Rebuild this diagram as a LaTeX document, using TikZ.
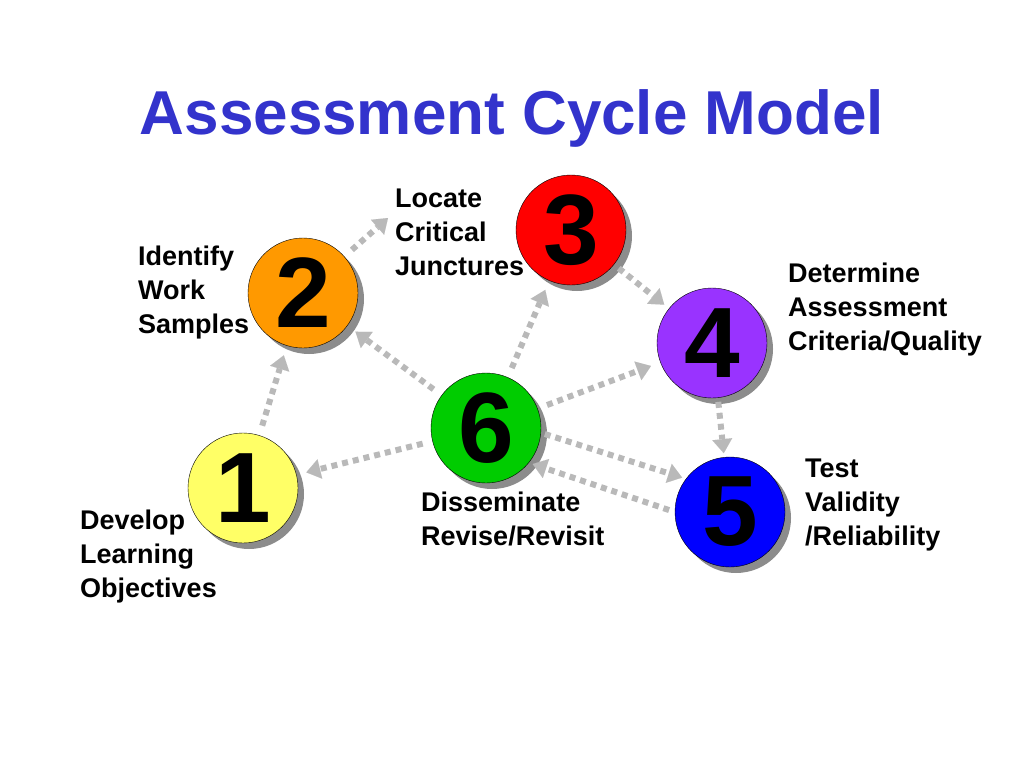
\documentclass[tikz,border=0pt]{standalone}
\usepackage{fontspec}
\setmainfont{Liberation Sans}
\usetikzlibrary{arrows.meta,shadows}
\definecolor{ttl}{RGB}{51,51,204}
\definecolor{arr}{RGB}{185,185,185}
\tikzset{
 num/.style={circle,draw=black,thin,minimum size=110pt,inner sep=0pt,font=\fontsize{100}{100}\selectfont\bfseries,
   drop shadow={shadow xshift=6pt,shadow yshift=-6pt,fill=gray!90,opacity=1}},
 lbl/.style={align=left,anchor=north west,font=\fontsize{27}{34}\selectfont\bfseries,inner sep=0pt},
 con/.style={draw=arr,line width=6pt,dash pattern=on 6pt off 5pt,shorten <=10pt,shorten >=10pt,
   -{Triangle[length=14pt,width=20pt,fill=arr,color=arr,line width=0.01pt]}},
}
\begin{document}
\begin{tikzpicture}[x=1pt,y=-1pt]
\useasboundingbox (0,0) rectangle (1024,768);
\node[font=\fontsize{62}{62}\selectfont\bfseries,text=ttl] (title) at (512,118) {Assessment Cycle Model};
\node[num,fill={rgb,255:red,255;green,255;blue,102}] (n1) at (243,488) {1};
\node[num,fill={rgb,255:red,255;green,153;blue,0}] (n2) at (303,293) {2};
\node[num,fill={rgb,255:red,255;green,0;blue,0}] (n3) at (571,230) {3};
\node[num,fill={rgb,255:red,153;green,51;blue,255}] (n4) at (712,343) {4};
\node[num,fill={rgb,255:red,0;green,0;blue,255}] (n5) at (730,512) {5};
\node[num,fill={rgb,255:red,0;green,204;blue,0}] (n6) at (486,428) {6};
\node[lbl] (l1) at (80,510) {Develop\\Learning\\Objectives};
\node[lbl] (l2) at (138,246) {Identify\\Work\\Samples};
\node[lbl] (l3) at (395,189) {Locate\\Critical\\Junctures};
\node[lbl] (l4) at (788,263) {Determine\\Assessment\\Criteria/Quality};
\node[lbl] (l5) at (805,459) {Test\\Validity\\/Reliability};
\node[lbl] (l6) at (421,492) {Disseminate\\Revise/Revisit};
\coordinate (t3) at (388,218);
\draw[con] (n1) -- (n2);
\draw[con,shorten >=0pt] (n2) -- (t3);
\draw[con,shorten <=6pt,shorten >=6pt] (n3) -- (n4);
\draw[con,shorten <=4pt,shorten >=4pt] (n4) -- (n5);
\draw[con,shorten <=6pt,shorten >=4pt] (n5.180) -- (n6.-39);
\draw[con] (n6) -- (n1);
\draw[con] (n6) -- (n2);
\draw[con] (n6) -- (n3);
\draw[con] (n6) -- (n4);
\draw[con,shorten <=4pt,shorten >=4pt] (n6.-5) -- (n5.143);
\end{tikzpicture}
\end{document}
